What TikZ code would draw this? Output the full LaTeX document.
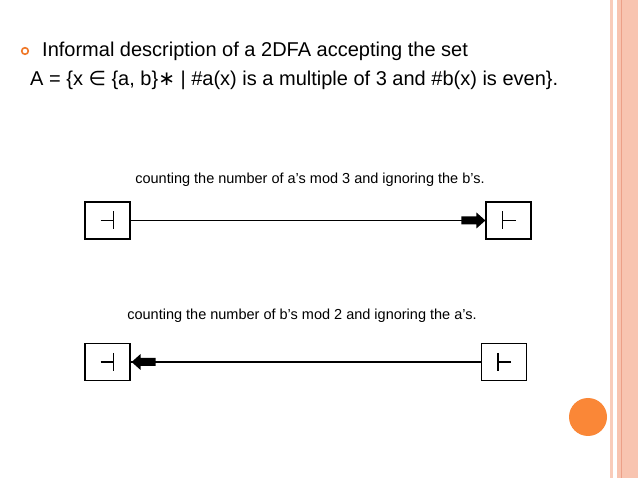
\documentclass[tikz,border=0pt]{standalone}
\usepackage{fontspec}
\setmainfont{Liberation Sans}
\newfontfamily\dv{DejaVu Sans}
\usetikzlibrary{calc}
\definecolor{stripeA}{RGB}{249,204,186}
\definecolor{stripeB}{RGB}{248,196,176}
\definecolor{stripeC}{RGB}{236,160,136}
\definecolor{dotor}{RGB}{250,135,55}
\definecolor{bulor}{RGB}{240,120,40}
\begin{document}
\begin{tikzpicture}[x=1pt,y=-1pt,
  tape/.style={draw,line width=1.2pt,minimum width=45pt,minimum height=37pt,inner sep=0pt},
  conn/.style={line width=1.2pt},
  fat/.style={fill=black},
  captext/.style={font=\fontsize{14.5}{16}\selectfont,inner sep=0pt}]
\useasboundingbox (0,0) rectangle (638,478);
\fill[white] (0,0) rectangle (638,478);
\fill[stripeA] (610,0) rectangle (613,478);
\fill[stripeB] (617,0) rectangle (638,478);
\draw[stripeC,line width=1pt] (621.5,0) -- (621.5,478);
\fill[dotor] (588,417) circle (19);
\draw[bulor,line width=1.6pt] (25,51) circle (3.3);
\node[anchor=base west,inner sep=0pt,font=\fontsize{20}{24}\selectfont] (t1) at (42,57) {Informal description of a 2DFA accepting the set};
\node[anchor=base west,inner sep=0pt,font=\fontsize{20}{24}\selectfont] (t2) at (30,86) {A = \{x {\dv∈} \{a, b\}{\dv∗} | \#a(x) is a multiple of 3 and \#b(x) is even\}.};
\node[captext,anchor=base] (c1) at (310,184) {counting the number of a’s mod 3 and ignoring the b’s.};
\node[tape] (L1) at (107.5,220.5) {};
\node[tape] (R1) at (508.5,220.5) {};
\draw[line width=1.2pt] ($(L1.center)+(6,-9)$) -- ($(L1.center)+(6,9)$) ($(L1.center)+(-7,0)$) -- ($(L1.center)+(6,0)$);
\draw[line width=1.2pt] ($(R1.center)+(-6,-9)$) -- ($(R1.center)+(-6,9)$) ($(R1.center)+(7,0)$) -- ($(R1.center)+(-6,0)$);
\draw[conn] (L1.east) -- (R1.west);
\fill[fat] (R1.west) -- ++(-9,-8) -- ++(0,4) -- ++(-15,0) -- ++(0,8) -- ++(15,0) -- ++(0,4) -- cycle;
\node[captext,anchor=base] (c2) at (302,320) {counting the number of b’s mod 2 and ignoring the a’s.};
\node[tape] (L2) at (107.5,362) {};
\node[tape] (R2) at (504,362) {};
\draw[line width=1.2pt] ($(L2.center)+(6,-9)$) -- ($(L2.center)+(6,9)$) ($(L2.center)+(-7,0)$) -- ($(L2.center)+(6,0)$);
\draw[line width=1.2pt] ($(R2.center)+(-6,-9)$) -- ($(R2.center)+(-6,9)$) ($(R2.center)+(7,0)$) -- ($(R2.center)+(-6,0)$);
\draw[conn] (R2.west) -- (L2.east);
\fill[fat] ($(L2.east)+(1,0)$) -- ++(9,-8) -- ++(0,4) -- ++(15,0) -- ++(0,8) -- ++(-15,0) -- ++(0,4) -- cycle;
\end{tikzpicture}
\end{document}
